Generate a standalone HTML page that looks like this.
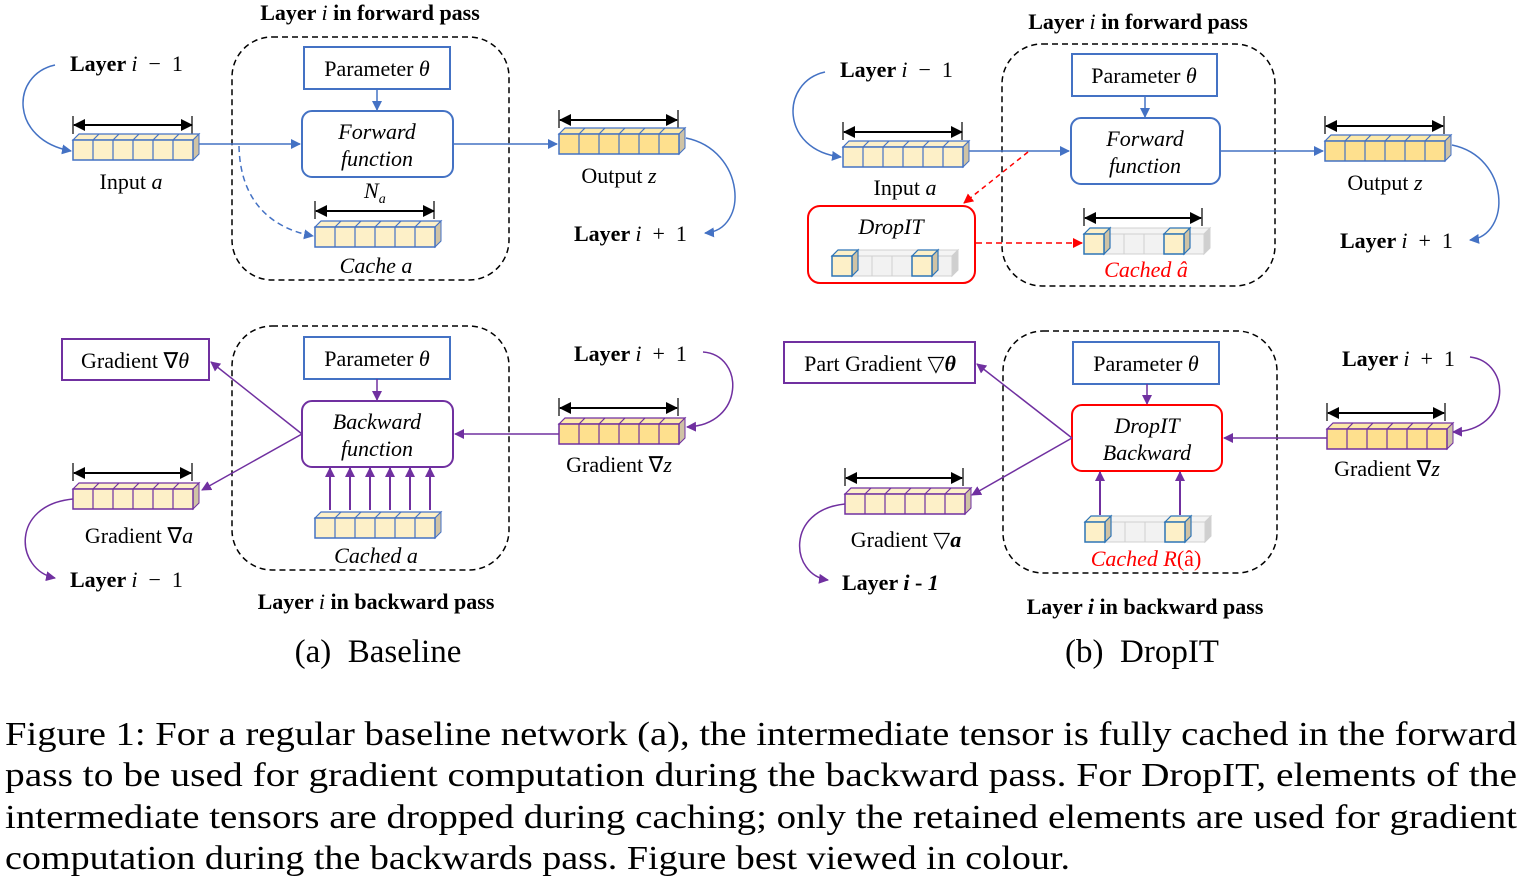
<!DOCTYPE html>
<html><head><meta charset="utf-8"><style>
html,body{margin:0;padding:0;background:#fff;width:1527px;height:882px;overflow:hidden}
svg{display:block}
text{font-family:"Liberation Serif",serif;fill:#000}
.b{font-weight:bold}
.i{font-style:italic}
.n{font-weight:normal}
</style></head><body>
<svg width="1527" height="882" viewBox="0 0 1527 882" xmlns="http://www.w3.org/2000/svg">
<defs>
<marker id="ab" markerWidth="10" markerHeight="10" refX="9" refY="5" orient="auto" markerUnits="userSpaceOnUse"><path d="M0,0 L10,5 L0,10 z" fill="#4472c4"/></marker>
<marker id="ap" markerWidth="10" markerHeight="10" refX="9" refY="5" orient="auto" markerUnits="userSpaceOnUse"><path d="M0,0 L10,5 L0,10 z" fill="#7030a0"/></marker>
<marker id="ar" markerWidth="10" markerHeight="10" refX="9" refY="5" orient="auto" markerUnits="userSpaceOnUse"><path d="M0,0 L10,5 L0,10 z" fill="#f00"/></marker>
<marker id="ak" markerWidth="12" markerHeight="12" refX="11" refY="6" orient="auto-start-reverse" markerUnits="userSpaceOnUse"><path d="M0,0 L12,6 L0,12 z" fill="#000"/></marker>
<g id="tb">
<path d="M0,6 L6,0 L126,0 L120,6 z" fill="#fdf0c8" stroke="#4472c4" stroke-width="1.2"/>
<path d="M120,6 L126,0 L126,20 L120,26 z" fill="#cfc3a5" stroke="#4472c4" stroke-width="1"/>
<rect x="0" y="6" width="120" height="20" fill="#fdf0c8" stroke="#4472c4" stroke-width="1.5"/>
<path d="M20,6v20M40,6v20M60,6v20M80,6v20M100,6v20M26,0l-6,6M46,0l-6,6M66,0l-6,6M86,0l-6,6M106,0l-6,6" stroke="#4472c4" stroke-width="1.2" fill="none"/>
</g>
<g id="ty">
<path d="M0,6 L6,0 L126,0 L120,6 z" fill="#fde9a8" stroke="#4472c4" stroke-width="1.2"/>
<path d="M120,6 L126,0 L126,20 L120,26 z" fill="#cfc3a5" stroke="#4472c4" stroke-width="1"/>
<rect x="0" y="6" width="120" height="20" fill="#fee08e" stroke="#4472c4" stroke-width="1.5"/>
<path d="M20,6v20M40,6v20M60,6v20M80,6v20M100,6v20M26,0l-6,6M46,0l-6,6M66,0l-6,6M86,0l-6,6M106,0l-6,6" stroke="#4472c4" stroke-width="1.2" fill="none"/>
</g>
<g id="tpy">
<path d="M0,6 L6,0 L126,0 L120,6 z" fill="#fde9a8" stroke="#7030a0" stroke-width="1.2"/>
<path d="M120,6 L126,0 L126,20 L120,26 z" fill="#cfc3a5" stroke="#7030a0" stroke-width="1"/>
<rect x="0" y="6" width="120" height="20" fill="#fee08e" stroke="#7030a0" stroke-width="1.5"/>
<path d="M20,6v20M40,6v20M60,6v20M80,6v20M100,6v20M26,0l-6,6M46,0l-6,6M66,0l-6,6M86,0l-6,6M106,0l-6,6" stroke="#7030a0" stroke-width="1.2" fill="none"/>
</g>
<g id="tp">
<path d="M0,6 L6,0 L126,0 L120,6 z" fill="#fdf0c8" stroke="#7030a0" stroke-width="1.2"/>
<path d="M120,6 L126,0 L126,20 L120,26 z" fill="#cfc3a5" stroke="#7030a0" stroke-width="1"/>
<rect x="0" y="6" width="120" height="20" fill="#fdf0c8" stroke="#7030a0" stroke-width="1.5"/>
<path d="M20,6v20M40,6v20M60,6v20M80,6v20M100,6v20M26,0l-6,6M46,0l-6,6M66,0l-6,6M86,0l-6,6M106,0l-6,6" stroke="#7030a0" stroke-width="1.2" fill="none"/>
</g>
<g id="cube">
<path d="M0,6 L6,0 L26,0 L20,6 z" fill="#fdf0c8" stroke="#2e75b6" stroke-width="1.2"/>
<path d="M20,6 L26,0 L26,20 L20,26 z" fill="#cfc3a5" stroke="#2e75b6" stroke-width="1.2"/>
<rect x="0" y="6" width="20" height="20" fill="#fdf0c8" stroke="#2e75b6" stroke-width="1.5"/>
</g>
<g id="ts">
<path d="M0,6 L6,0 L126,0 L120,6 z" fill="#f4f4f4" stroke="#d0d0d0"/>
<path d="M120,6 L126,0 L126,20 L120,26 z" fill="#cfcfcf" stroke="#d0d0d0"/>
<rect x="0" y="6" width="120" height="20" fill="#f2f2f2" stroke="#d0d0d0"/>
<path d="M20,6v20M40,6v20M60,6v20M80,6v20M100,6v20" stroke="#d0d0d0" fill="none"/>
<use href="#cube" x="0" y="0"/>
<use href="#cube" x="80" y="0"/>
</g>
</defs>

<!-- ============ BASELINE ============ -->
<rect x="232" y="37" width="277" height="243" rx="40" fill="none" stroke="#000" stroke-width="1.5" stroke-dasharray="6,4"/>
<text x="370" y="20" text-anchor="middle" font-size="22" class="b">Layer <tspan class="i n">i</tspan> in forward pass</text>
<rect x="304" y="47" width="146" height="42" fill="#fff" stroke="#4472c4" stroke-width="2"/>
<text x="377" y="76" text-anchor="middle" font-size="22">Parameter <tspan class="i">θ</tspan></text>
<line x1="377" y1="89" x2="377" y2="110" stroke="#4472c4" stroke-width="1.5" marker-end="url(#ab)"/>
<rect x="302" y="111" width="151" height="66" rx="10" fill="#fff" stroke="#4472c4" stroke-width="2"/>
<text x="377" y="139" text-anchor="middle" font-size="22" class="i">Forward</text>
<text x="377" y="166" text-anchor="middle" font-size="22" class="i">function</text>

<text x="70" y="71" font-size="22" class="b" xml:space="preserve">Layer <tspan class="i n">i</tspan><tspan class="n">  −  1</tspan></text>
<path d="M55,65 C10,75 10,140 71,151" fill="none" stroke="#4472c4" stroke-width="1.5" marker-end="url(#ab)"/>
<line x1="74" y1="125" x2="192" y2="125" stroke="#000" stroke-width="2" marker-start="url(#ak)" marker-end="url(#ak)"/>
<path d="M73,116v18M192,116v18" stroke="#000" stroke-width="1.2"/>
<use href="#tb" x="73" y="134"/>
<text x="131" y="189" text-anchor="middle" font-size="22">Input <tspan class="i">a</tspan></text>
<line x1="199" y1="144" x2="300" y2="144" stroke="#4472c4" stroke-width="1.5" marker-end="url(#ab)"/>
<line x1="453" y1="144" x2="557" y2="144" stroke="#4472c4" stroke-width="1.5" marker-end="url(#ab)"/>
<path d="M239,146 C240,200 270,228 313,236" fill="none" stroke="#4472c4" stroke-width="1.5" stroke-dasharray="6,4" marker-end="url(#ab)"/>
<text x="364" y="198" font-size="22" class="i">N<tspan font-size="14" dy="5">a</tspan></text>
<line x1="316" y1="211" x2="434" y2="211" stroke="#000" stroke-width="2" marker-start="url(#ak)" marker-end="url(#ak)"/>
<path d="M315,201v18M434,201v18" stroke="#000" stroke-width="1.2"/>
<use href="#tb" x="315" y="221"/>
<text x="376" y="273" text-anchor="middle" font-size="22" class="i">Cache a</text>

<line x1="560" y1="120" x2="677" y2="120" stroke="#000" stroke-width="2" marker-start="url(#ak)" marker-end="url(#ak)"/>
<path d="M559,110v18M678,110v18" stroke="#000" stroke-width="1.2"/>
<use href="#ty" x="559" y="128"/>
<text x="619" y="183" text-anchor="middle" font-size="22">Output <tspan class="i">z</tspan></text>
<path d="M686,138 C745,150 750,230 705,233" fill="none" stroke="#4472c4" stroke-width="1.5" marker-end="url(#ab)"/>
<text x="574" y="241" font-size="22" class="b" xml:space="preserve">Layer <tspan class="i n">i</tspan><tspan class="n">  +  1</tspan></text>

<!-- backward -->
<rect x="232" y="326" width="277" height="244" rx="40" fill="none" stroke="#000" stroke-width="1.5" stroke-dasharray="6,4"/>
<text x="376" y="609" text-anchor="middle" font-size="22" class="b">Layer <tspan class="i n">i</tspan> in backward pass</text>
<rect x="304" y="337" width="146" height="42" fill="#fff" stroke="#4472c4" stroke-width="2"/>
<text x="377" y="366" text-anchor="middle" font-size="22">Parameter <tspan class="i">θ</tspan></text>
<line x1="377" y1="379" x2="377" y2="400" stroke="#7030a0" stroke-width="1.5" marker-end="url(#ap)"/>
<rect x="302" y="401" width="151" height="66" rx="10" fill="#fff" stroke="#7030a0" stroke-width="2"/>
<text x="377" y="429" text-anchor="middle" font-size="22" class="i">Backward</text>
<text x="377" y="456" text-anchor="middle" font-size="22" class="i">function</text>
<rect x="62" y="339" width="147" height="41" fill="#fff" stroke="#7030a0" stroke-width="2"/>
<text x="135" y="368" text-anchor="middle" font-size="22">Gradient ∇<tspan class="i">θ</tspan></text>
<line x1="302" y1="434" x2="211" y2="362" stroke="#7030a0" stroke-width="1.5" marker-end="url(#ap)"/>
<line x1="302" y1="434" x2="202" y2="490" stroke="#7030a0" stroke-width="1.5" marker-end="url(#ap)"/>
<g stroke="#7030a0" stroke-width="2" marker-end="url(#ap)">
<line x1="330" y1="510" x2="330" y2="468"/><line x1="350" y1="510" x2="350" y2="468"/><line x1="370" y1="510" x2="370" y2="468"/><line x1="390" y1="510" x2="390" y2="468"/><line x1="410" y1="510" x2="410" y2="468"/><line x1="430" y1="510" x2="430" y2="468"/>
</g>
<use href="#tb" x="315" y="512"/>
<text x="376" y="563" text-anchor="middle" font-size="22" class="i">Cached a</text>
<line x1="74" y1="473" x2="191" y2="473" stroke="#000" stroke-width="2" marker-start="url(#ak)" marker-end="url(#ak)"/>
<path d="M73,463v18M192,463v18" stroke="#000" stroke-width="1.2"/>
<use href="#tp" x="73" y="483"/>
<text x="139" y="543" text-anchor="middle" font-size="22">Gradient ∇<tspan class="i">a</tspan></text>
<path d="M73,499 C10,505 15,570 55,578" fill="none" stroke="#7030a0" stroke-width="1.5" marker-end="url(#ap)"/>
<text x="70" y="587" font-size="22" class="b" xml:space="preserve">Layer <tspan class="i n">i</tspan><tspan class="n">  −  1</tspan></text>
<text x="574" y="361" font-size="22" class="b" xml:space="preserve">Layer <tspan class="i n">i</tspan><tspan class="n">  +  1</tspan></text>
<path d="M703,352 C745,355 745,425 687,427" fill="none" stroke="#7030a0" stroke-width="1.5" marker-end="url(#ap)"/>
<line x1="560" y1="408" x2="677" y2="408" stroke="#000" stroke-width="2" marker-start="url(#ak)" marker-end="url(#ak)"/>
<path d="M559,398v18M678,398v18" stroke="#000" stroke-width="1.2"/>
<use href="#tpy" x="559" y="418"/>
<line x1="559" y1="434" x2="455" y2="434" stroke="#7030a0" stroke-width="1.5" marker-end="url(#ap)"/>
<text x="619" y="472" text-anchor="middle" font-size="22">Gradient ∇<tspan class="i">z</tspan></text>
<text x="378" y="662" text-anchor="middle" font-size="33" xml:space="preserve">(a)  Baseline</text>

<!-- ============ DROPIT ============ -->
<rect x="1002" y="44" width="273" height="242" rx="40" fill="none" stroke="#000" stroke-width="1.5" stroke-dasharray="6,4"/>
<text x="1138" y="29" text-anchor="middle" font-size="22" class="b">Layer <tspan class="i n">i</tspan> in forward pass</text>
<rect x="1072" y="54" width="145" height="42" fill="#fff" stroke="#4472c4" stroke-width="2"/>
<text x="1144" y="83" text-anchor="middle" font-size="22">Parameter <tspan class="i">θ</tspan></text>
<line x1="1145" y1="96" x2="1145" y2="117" stroke="#4472c4" stroke-width="1.5" marker-end="url(#ab)"/>
<rect x="1071" y="118" width="149" height="66" rx="10" fill="#fff" stroke="#4472c4" stroke-width="2"/>
<text x="1145" y="146" text-anchor="middle" font-size="22" class="i">Forward</text>
<text x="1145" y="173" text-anchor="middle" font-size="22" class="i">function</text>
<text x="840" y="77" font-size="22" class="b" xml:space="preserve">Layer <tspan class="i n">i</tspan><tspan class="n">  −  1</tspan></text>
<path d="M825,72 C780,82 780,150 841,157" fill="none" stroke="#4472c4" stroke-width="1.5" marker-end="url(#ab)"/>
<line x1="844" y1="132" x2="962" y2="132" stroke="#000" stroke-width="2" marker-start="url(#ak)" marker-end="url(#ak)"/>
<path d="M843,122v18M962,122v18" stroke="#000" stroke-width="1.2"/>
<use href="#tb" x="843" y="141"/>
<text x="905" y="195" text-anchor="middle" font-size="22">Input <tspan class="i">a</tspan></text>
<line x1="969" y1="151" x2="1069" y2="151" stroke="#4472c4" stroke-width="1.5" marker-end="url(#ab)"/>
<line x1="1220" y1="151" x2="1323" y2="151" stroke="#4472c4" stroke-width="1.5" marker-end="url(#ab)"/>
<line x1="1028" y1="152" x2="964" y2="203" stroke="#f00" stroke-width="1.5" stroke-dasharray="5,4" marker-end="url(#ar)"/>
<rect x="808" y="206" width="167" height="77" rx="12" fill="#fff" stroke="#f00" stroke-width="2"/>
<text x="891" y="234" text-anchor="middle" font-size="22" class="i">DropIT</text>
<use href="#ts" x="832" y="250"/>
<line x1="976" y1="243" x2="1082" y2="243" stroke="#f00" stroke-width="1.5" stroke-dasharray="6,4" marker-end="url(#ar)"/>
<line x1="1085" y1="218" x2="1201" y2="218" stroke="#000" stroke-width="2" marker-start="url(#ak)" marker-end="url(#ak)"/>
<path d="M1084,208v18M1202,208v18" stroke="#000" stroke-width="1.2"/>
<use href="#ts" x="1084" y="228"/>
<text x="1146" y="277" text-anchor="middle" font-size="22" class="i" style="fill:#f00">Cached â</text>
<line x1="1326" y1="126" x2="1443" y2="126" stroke="#000" stroke-width="2" marker-start="url(#ak)" marker-end="url(#ak)"/>
<path d="M1325,116v18M1444,116v18" stroke="#000" stroke-width="1.2"/>
<use href="#ty" x="1325" y="135"/>
<text x="1385" y="190" text-anchor="middle" font-size="22">Output <tspan class="i">z</tspan></text>
<path d="M1452,145 C1510,157 1512,235 1470,240" fill="none" stroke="#4472c4" stroke-width="1.5" marker-end="url(#ab)"/>
<text x="1340" y="248" font-size="22" class="b" xml:space="preserve">Layer <tspan class="i n">i</tspan><tspan class="n">  +  1</tspan></text>

<rect x="1003" y="331" width="274" height="242" rx="40" fill="none" stroke="#000" stroke-width="1.5" stroke-dasharray="6,4"/>
<text x="1145" y="614" text-anchor="middle" font-size="22" class="b">Layer <tspan class="i">i</tspan> in backward pass</text>
<rect x="1073" y="342" width="146" height="42" fill="#fff" stroke="#4472c4" stroke-width="2"/>
<text x="1146" y="371" text-anchor="middle" font-size="22">Parameter <tspan class="i">θ</tspan></text>
<line x1="1147" y1="384" x2="1147" y2="404" stroke="#7030a0" stroke-width="1.5" marker-end="url(#ap)"/>
<rect x="1072" y="405" width="150" height="66" rx="10" fill="#fff" stroke="#f00" stroke-width="2"/>
<text x="1147" y="433" text-anchor="middle" font-size="22" class="i">DropIT</text>
<text x="1147" y="460" text-anchor="middle" font-size="22" class="i">Backward</text>
<rect x="784" y="342" width="191" height="41" fill="#fff" stroke="#7030a0" stroke-width="2"/>
<text x="880" y="371" text-anchor="middle" font-size="22" xml:space="preserve">Part Gradient ▽<tspan class="b i">θ</tspan></text>
<line x1="1072" y1="438" x2="977" y2="364" stroke="#7030a0" stroke-width="1.5" marker-end="url(#ap)"/>
<line x1="1072" y1="438" x2="972" y2="495" stroke="#7030a0" stroke-width="1.5" marker-end="url(#ap)"/>
<line x1="1100" y1="515" x2="1100" y2="472" stroke="#7030a0" stroke-width="2" marker-end="url(#ap)"/>
<line x1="1180" y1="515" x2="1180" y2="472" stroke="#7030a0" stroke-width="2" marker-end="url(#ap)"/>
<use href="#ts" x="1085" y="516"/>
<text x="1146" y="566" text-anchor="middle" font-size="22" style="fill:#f00"><tspan class="i">Cached R</tspan>(â)</text>
<line x1="846" y1="478" x2="962" y2="478" stroke="#000" stroke-width="2" marker-start="url(#ak)" marker-end="url(#ak)"/>
<path d="M845,468v18M963,468v18" stroke="#000" stroke-width="1.2"/>
<use href="#tp" x="845" y="488"/>
<text x="906" y="547" text-anchor="middle" font-size="22" xml:space="preserve">Gradient ▽<tspan class="b i">a</tspan></text>
<path d="M845,504 C785,510 790,575 828,580" fill="none" stroke="#7030a0" stroke-width="1.5" marker-end="url(#ap)"/>
<text x="842" y="590" font-size="22" class="b">Layer <tspan class="i">i</tspan> - <tspan class="i">1</tspan></text>
<text x="1342" y="366" font-size="22" class="b" xml:space="preserve">Layer <tspan class="i n">i</tspan><tspan class="n">  +  1</tspan></text>
<path d="M1470,357 C1512,362 1512,430 1453,432" fill="none" stroke="#7030a0" stroke-width="1.5" marker-end="url(#ap)"/>
<line x1="1328" y1="413" x2="1444" y2="413" stroke="#000" stroke-width="2" marker-start="url(#ak)" marker-end="url(#ak)"/>
<path d="M1327,403v18M1445,403v18" stroke="#000" stroke-width="1.2"/>
<use href="#tpy" x="1327" y="423"/>
<line x1="1327" y1="438" x2="1224" y2="438" stroke="#7030a0" stroke-width="1.5" marker-end="url(#ap)"/>
<text x="1387" y="476" text-anchor="middle" font-size="22">Gradient ∇<tspan class="i">z</tspan></text>
<text x="1142" y="662" text-anchor="middle" font-size="33" xml:space="preserve">(b)  DropIT</text>

<!-- caption -->
<g font-size="34">
<text x="5" y="745" textLength="1512" lengthAdjust="spacingAndGlyphs">Figure 1: For a regular baseline network (a), the intermediate tensor is fully cached in the forward</text>
<text x="5" y="786" textLength="1512" lengthAdjust="spacingAndGlyphs">pass to be used for gradient computation during the backward pass. For DropIT, elements of the</text>
<text x="5" y="828" textLength="1512" lengthAdjust="spacingAndGlyphs">intermediate tensors are dropped during caching; only the retained elements are used for gradient</text>
<text x="5" y="869" textLength="1065" lengthAdjust="spacingAndGlyphs">computation during the backwards pass. Figure best viewed in colour.</text>
</g>
</svg>
</body></html>
